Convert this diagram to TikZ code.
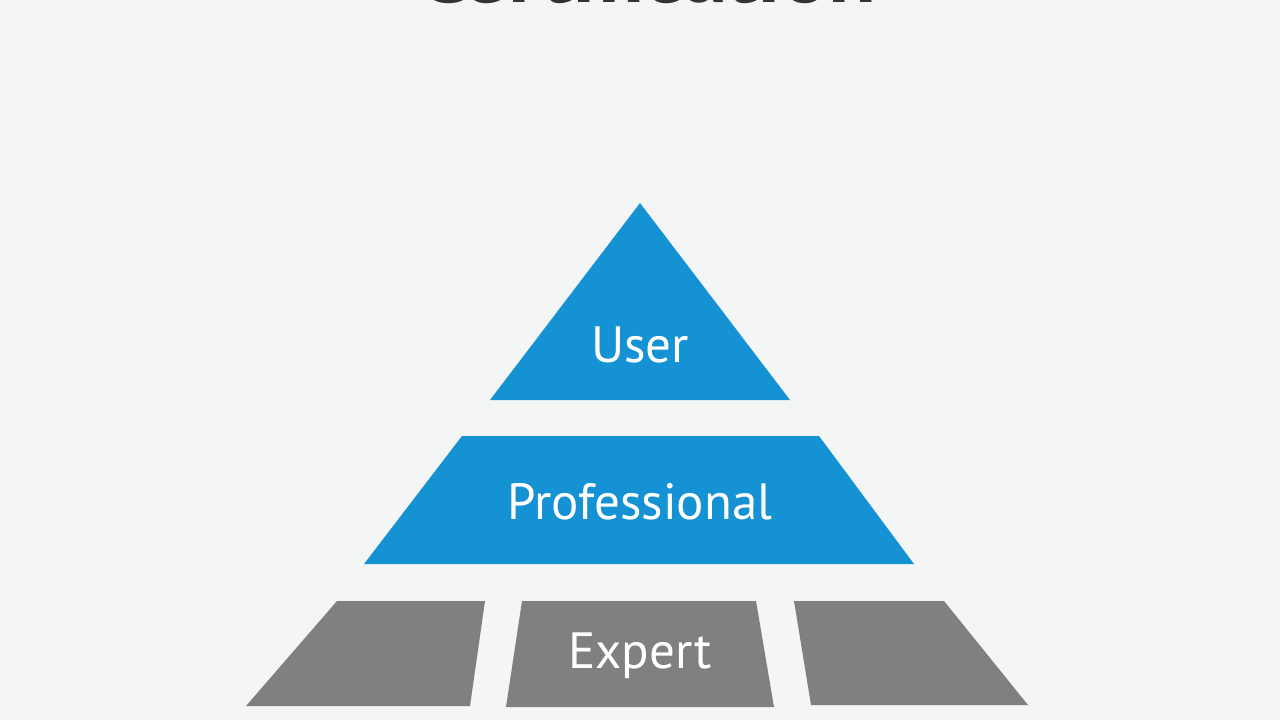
\documentclass[tikz,border=0pt]{standalone}
\usepackage{fontspec}
\setmainfont{PT Sans}
\definecolor{bg}{HTML}{F4F5F5}
\definecolor{tierblue}{HTML}{1592D3}
\definecolor{tiergray}{HTML}{808080}
\definecolor{titlecol}{HTML}{333333}
\begin{document}
\begin{tikzpicture}[x=1pt,y=-1pt,
  bluetier/.style={fill=tierblue},
  graytier/.style={fill=tiergray},
  lbl/.style={text=white,inner sep=0pt,anchor=base,font=\fontsize{51}{60}\selectfont},
  titlelbl/.style={text=titlecol,inner sep=0pt,anchor=base,font=\fontsize{88}{96}\selectfont\bfseries}]
\useasboundingbox (0,0) rectangle (1280,720);
\fill[bg] (0,0) rectangle (1280,720);
\clip (0,0) rectangle (1280,720);
\node[titlelbl] (title) at (647,2) {Certification};
% User triangle
\fill[bluetier] (640,203) -- (790,400) -- (490,400) -- cycle;
\node[lbl] (user) at (640,362) {User};
% Professional trapezoid
\fill[bluetier] (462,436) -- (819,436) -- (914,564) -- (364,564) -- cycle;
\node[lbl] (prof) at (640,519) {Professional};
% Expert row
\fill[graytier] (337,601) -- (485,601) -- (470,706) -- (246,706) -- cycle;
\fill[graytier] (522,601) -- (756,601) -- (774,707) -- (506,707) -- cycle;
\fill[graytier] (794,601) -- (944,601) -- (1028,705) -- (811,705) -- cycle;
\node[lbl] (expert) at (640,668) {Expert};
\end{tikzpicture}
\end{document}
